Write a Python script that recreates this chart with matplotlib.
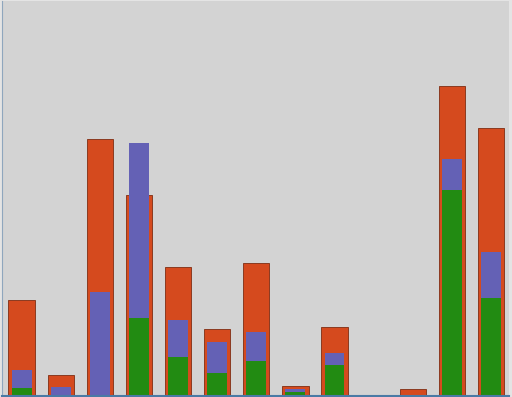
import numpy as np
import matplotlib.pyplot as plt

categories = list(range(13))
orange_vals = [96, 21, 257, 201, 129, 67, 133, 10, 69, 0, 7, 310, 268]
blue_vals = [26, 9, 104, 253, 76, 54, 64, 7, 43, 0, 0, 237, 144]
green_vals = [8, 0, 0, 78, 39, 23, 35, 4, 31, 0, 0, 206, 98]

fig = plt.figure(figsize=(5.12, 3.97), dpi=100)
fig.patch.set_facecolor('#e4e4e4')
ax = fig.add_axes([2 / 512, 1 / 397, 507 / 512, 395 / 397])
ax.set_facecolor('#d3d3d3')

x = np.arange(len(categories))
ax.bar(x, orange_vals, width=0.67, color='#d54a1e', edgecolor='#8a3a20', linewidth=0.7)
ax.bar(x, blue_vals, width=0.51, color='#6461b5', linewidth=0)
ax.bar(x, green_vals, width=0.51, color='#228b12', linewidth=0)

ax.set_xlim(-0.5, 12.46)
ax.set_ylim(0, 395)
ax.set_xticks([])
ax.set_yticks([])
for s in ['top', 'right']:
    ax.spines[s].set_visible(False)
ax.spines['left'].set_color('#8fa6bd')
ax.spines['bottom'].set_color('#4a7aa5')
ax.spines['bottom'].set_linewidth(1.5)

fig.savefig('out.png', dpi=100)
